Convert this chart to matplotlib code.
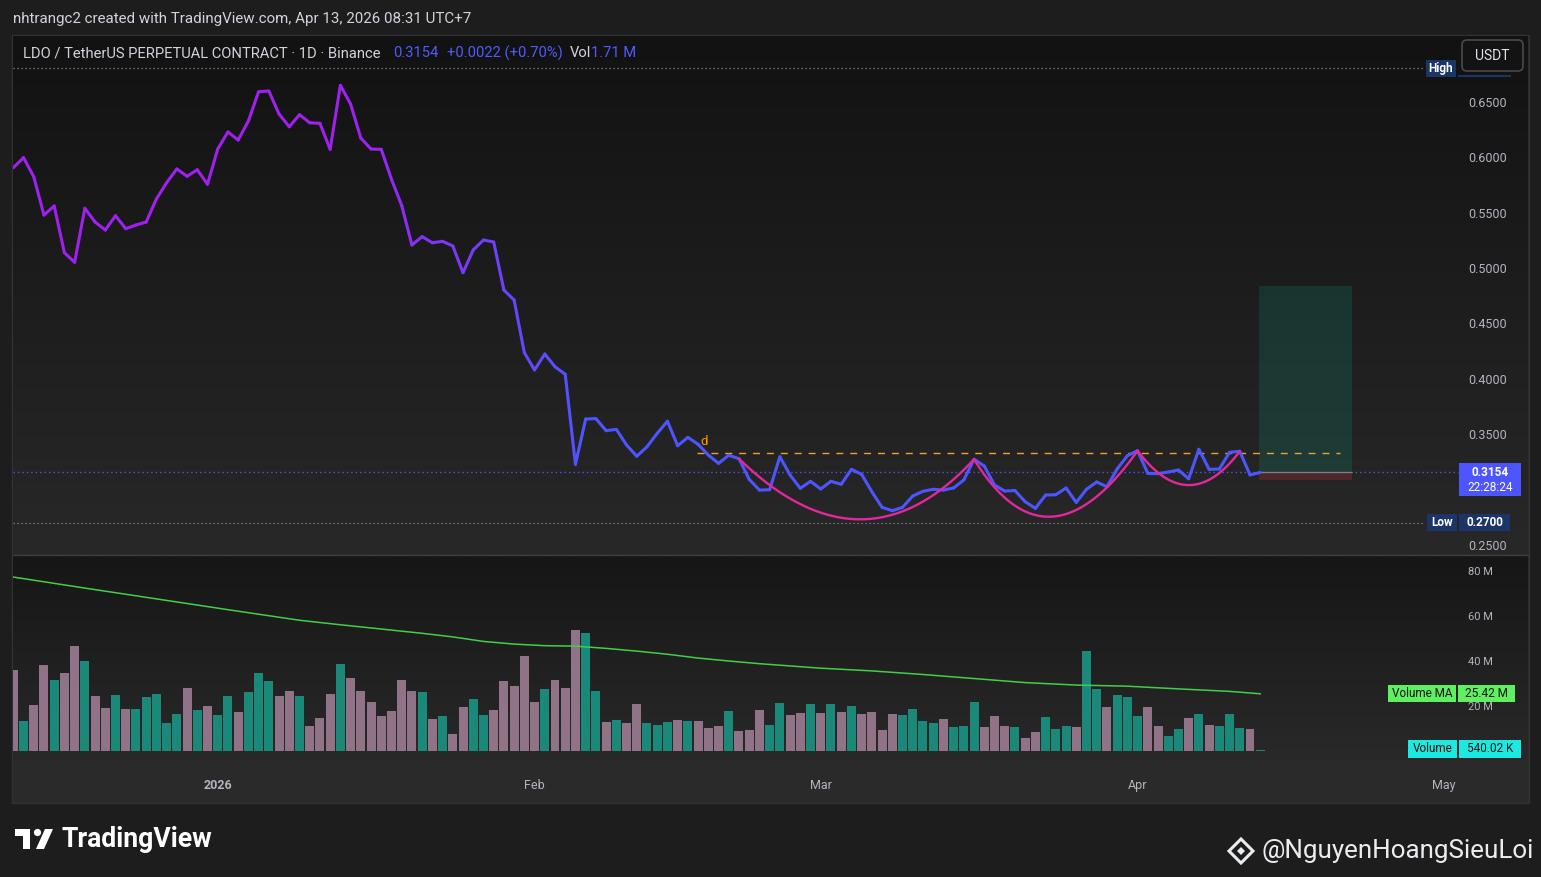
import numpy as np
import pandas as pd
import matplotlib
matplotlib.use("Agg")
import matplotlib.pyplot as plt
import matplotlib.dates as mdates
from matplotlib.collections import LineCollection
from matplotlib.patches import Rectangle, FancyBboxPatch, Polygon, Circle
from matplotlib.colors import LinearSegmentedColormap, to_rgb

plt.rcParams['font.family'] = ['Roboto', 'DejaVu Sans']

# ---------------- data ----------------
start_date = '2025-12-12'
end_date = '2026-04-13'
close = [0.5904, 0.5995, 0.5823, 0.5477, 0.5559, 0.5137, 0.5051, 0.5538, 0.5414, 0.5342,
         0.5471, 0.5354, 0.5387, 0.5414, 0.5622, 0.5769, 0.5893, 0.5827, 0.5886, 0.5755,
         0.6073, 0.6227, 0.6154, 0.6326, 0.6590, 0.6597, 0.6389, 0.6274, 0.6383, 0.6310,
         0.6305, 0.6070, 0.6648, 0.6479, 0.6172, 0.6073, 0.6070, 0.5800, 0.5564, 0.5207,
         0.5282, 0.5227, 0.5240, 0.5198, 0.4957, 0.5162, 0.5252, 0.5234, 0.4800, 0.4710,
         0.4235, 0.4079, 0.4223, 0.4108, 0.4040, 0.3227, 0.3636, 0.3640, 0.3531, 0.3543,
         0.3402, 0.3300, 0.3386, 0.3507, 0.3616, 0.3395, 0.3471, 0.3408, 0.3311, 0.3236,
         0.3309, 0.3278, 0.3092, 0.2995, 0.2998, 0.3296, 0.3131, 0.3011, 0.3074, 0.3005,
         0.3074, 0.3047, 0.3182, 0.3137, 0.2980, 0.2839, 0.2809, 0.2839, 0.2941, 0.2984,
         0.3002, 0.2995, 0.3014, 0.3086, 0.3273, 0.3212, 0.3041, 0.2986, 0.2991, 0.2890,
         0.2830, 0.2950, 0.2953, 0.3014, 0.2884, 0.3002, 0.3068, 0.3025, 0.3185, 0.3305,
         0.3350, 0.3146, 0.3143, 0.3158, 0.3176, 0.3097, 0.3363, 0.3182, 0.3185, 0.3336,
         0.3345, 0.3132, 0.3154]
prior_close = 0.5950
volume_m = [36.0, 13.3, 20.4, 38.2, 31.6, 34.7, 46.7, 40.0, 24.4, 19.1,
            24.9, 18.7, 18.7, 24.0, 25.3, 12.4, 16.4, 28.0, 18.2, 20.0,
            16.0, 24.4, 17.3, 26.2, 34.7, 31.1, 24.4, 26.7, 24.4, 11.1,
            14.7, 25.3, 38.7, 32.4, 26.7, 21.8, 15.6, 17.8, 31.6, 26.7,
            26.2, 14.2, 15.6, 7.6, 19.6, 23.1, 16.0, 18.2, 31.1, 28.9,
            42.2, 21.8, 27.6, 31.6, 28.0, 53.8, 52.4, 26.7, 12.9, 13.8,
            12.4, 20.9, 12.4, 11.6, 12.9, 13.8, 13.3, 13.3, 10.2, 11.1,
            17.8, 8.9, 9.3, 18.2, 11.6, 21.3, 16.0, 16.9, 20.9, 16.9,
            20.9, 17.3, 20.0, 16.4, 17.3, 9.3, 16.4, 16.0, 18.7, 13.3,
            12.4, 14.2, 10.7, 11.1, 21.8, 10.7, 15.6, 11.1, 10.7, 5.8,
            8.4, 15.1, 9.8, 11.1, 10.7, 44.4, 27.6, 19.6, 24.9, 24.0,
            15.6, 19.6, 11.1, 6.7, 9.8, 14.7, 16.4, 11.6, 11.1, 16.4,
            10.2, 9.8, 0.54]
ma_dates = ['2025-12-12', '2025-12-19', '2025-12-26', '2026-01-02', '2026-01-09',
            '2026-01-13', '2026-01-17', '2026-01-21', '2026-01-24', '2026-01-27',
            '2026-01-30', '2026-02-02', '2026-02-05', '2026-02-08', '2026-02-11',
            '2026-02-14', '2026-02-17', '2026-02-20', '2026-02-23', '2026-02-26',
            '2026-03-01', '2026-03-06', '2026-03-11', '2026-03-16', '2026-03-21',
            '2026-03-26', '2026-03-31', '2026-04-05', '2026-04-10', '2026-04-13']
ma_values = [77.3, 72.4, 67.6, 62.8, 58.1, 56.1, 54.2, 52.3, 50.7, 48.7,
             47.5, 46.8, 46.6, 45.6, 44.4, 43.0, 41.3, 40.0, 38.8, 37.8,
             36.8, 35.6, 34.0, 32.2, 30.4, 29.3, 28.8, 27.6, 26.5, 25.42]

price_ticks = [0.25, 0.35, 0.40, 0.45, 0.50, 0.55, 0.60, 0.65]
volume_ticks = [20, 40, 60, 80]
month_ticks = ['2026-01-01', '2026-02-01', '2026-03-01', '2026-04-01', '2026-05-01']
month_labels = ['2026', 'Feb', 'Mar', 'Apr', 'May']

high_price = 0.680
low_price = 0.2700
last_price = 0.3154
last_change = 0.0022
last_change_pct = 0.70
day_volume = '1.71 M'
countdown = '22:28:24'
vol_ma_label = '25.42 M'
vol_last_label = '540.02 K'

resistance_level = 0.3327
resistance_start = '2026-02-16 21:00'
resistance_end = '2026-04-20 19:00'
label_d_date = '2026-02-17 14:00'
label_d_price = 0.3429

arc_start = ['2026-02-21', '2026-03-16', '2026-04-01']
arc_bottom = ['2026-03-04 20:00', '2026-03-23 14:00', '2026-04-06']
arc_end = ['2026-03-16', '2026-04-01', '2026-04-11']
arc_start_price = [0.3278, 0.3273, 0.3350]
arc_bottom_price = [0.2731, 0.2755, 0.3040]
arc_end_price = [0.3273, 0.3350, 0.3345]

pos_start = '2026-04-12 22:00'
pos_end = '2026-04-22 00:00'
pos_entry = 0.3154
pos_target = 0.4837
pos_stop = 0.3086

# ---------------- figure ----------------
W, H = 1541, 877
fig = plt.figure(figsize=(W / 100, H / 100), dpi=100, facecolor='#1d1d1d')


def fr(x0, y0, x1, y1):
    return [x0 / W, 1 - y1 / H, (x1 - x0) / W, (y1 - y0) / H]


axb = fig.add_axes([0, 0, 1, 1], zorder=-5)
axb.set_axis_off()


def vgrad(ax, x0, x1, y0, y1, ctop, cbot):
    cmap = LinearSegmentedColormap.from_list('g', [ctop, cbot])
    g = np.linspace(0, 1, 256).reshape(-1, 1)
    ax.imshow(g, cmap=cmap, extent=(x0, x1, y1, y0), aspect='auto',
              interpolation='bilinear', origin='upper', zorder=2)


# panel
axb.add_patch(Rectangle((12, 35), 1517, 768, facecolor='#2a2a2a', edgecolor='#323232', lw=1, zorder=1))
vgrad(axb, 13, 1528, 36, 554, '#121212', '#282828')
vgrad(axb, 13, 1528, 555, 760, '#161616', '#292929')
axb.add_patch(Rectangle((13, 760), 1515, 42, facecolor='#2a2a2a', edgecolor='none', zorder=3))
axb.plot([13, 1528], [554.5, 554.5], color='#3d3d3d', lw=1, zorder=4)
axb.set_xlim(0, W)
axb.set_ylim(H, 0)

d0 = mdates.date2num(pd.Timestamp(start_date))
xl = (d0 - 0.03, d0 + 148.2)

dates = pd.date_range(start_date, end_date, freq='D')
xd = mdates.date2num(dates)
close_a = np.array(close)
vol_a = np.array(volume_m)

# ---------------- main pane ----------------
ax = fig.add_axes(fr(13, 37, 1528, 554), zorder=1)
ax.set_facecolor('none')
for s in ax.spines.values():
    s.set_visible(False)
ax.set_xlim(*xl)
ax.set_ylim(0.2418, 0.7084)

# price line with purple -> blue gradient
c_purple = np.array(to_rgb('#a020f0'))
c_blue = np.array(to_rgb('#4d55ff'))
pts = np.column_stack([xd, close_a])
segs = np.stack([pts[:-1], pts[1:]], axis=1)
idx_mid = np.arange(len(segs)) + 0.5
t = np.clip((idx_mid - 33) / (56 - 33), 0, 1)
cols = [tuple((1 - tt) * c_purple + tt * c_blue) for tt in t]
lc = LineCollection(segs, colors=cols, linewidths=2.2, capstyle='round', joinstyle='round', zorder=5)
ax.add_collection(lc)

# horizontal reference lines
ax.axhline(high_price, xmin=0, xmax=(1425 - 13) / 1515, color='#8c8c8c', lw=0.9, ls=(0, (1, 2.2)))
ax.axhline(low_price, xmin=0, xmax=(1425 - 13) / 1515, color='#8c8c8c', lw=0.9, ls=(0, (1, 2.2)))
ax.axhline(last_price, xmin=0, xmax=(1458 - 13) / 1515, color='#4d55ff', lw=1.0, ls=(0, (1, 2.2)))

# resistance dashed line and label
ax.hlines(resistance_level, mdates.date2num(pd.Timestamp(resistance_start)),
          mdates.date2num(pd.Timestamp(resistance_end)), color='#f0a030', lw=1.0,
          linestyles=(0, (5, 5)), zorder=4)
ax.text(mdates.date2num(pd.Timestamp(label_d_date)), label_d_price, 'd', color='#ff9800',
        fontsize=9.5, ha='center', va='center')

# arcs (quadratic curves through start, bottom, end)
tt = np.linspace(0, 1, 100)
for s, b, e, ps, pb, pe in zip(arc_start, arc_bottom, arc_end, arc_start_price, arc_bottom_price, arc_end_price):
    x0 = mdates.date2num(pd.Timestamp(s)); x2 = mdates.date2num(pd.Timestamp(e))
    xb = mdates.date2num(pd.Timestamp(b))
    x1 = 2 * xb - 0.5 * (x0 + x2); y1 = 2 * pb - 0.5 * (ps + pe)
    cx = (1 - tt) ** 2 * x0 + 2 * (1 - tt) * tt * x1 + tt ** 2 * x2
    cy = (1 - tt) ** 2 * ps + 2 * (1 - tt) * tt * y1 + tt ** 2 * pe
    ax.plot(cx, cy, color='#e2289c', lw=1.7, zorder=6, solid_capstyle='round')

# long position box
ps_ = mdates.date2num(pd.Timestamp(pos_start)); pe_ = mdates.date2num(pd.Timestamp(pos_end))
ax.add_patch(Rectangle((ps_, pos_entry), pe_ - ps_, pos_target - pos_entry,
                       facecolor='#089981', alpha=0.2, edgecolor='none', zorder=2))
ax.add_patch(Rectangle((ps_, pos_stop), pe_ - ps_, pos_entry - pos_stop,
                       facecolor='#f23645', alpha=0.2, edgecolor='none', zorder=2))
ax.hlines(pos_entry, ps_, pe_, color='#808080', lw=0.9, zorder=3)

ax.set_xticks([])
ax.yaxis.tick_right()
ax.set_yticks(price_ticks)
ax.set_yticklabels([f'{v:.4f}' for v in price_ticks])
ax.tick_params(axis='y', length=0, pad=-43, labelsize=9, labelcolor='#b2b5be')

# ---------------- volume pane ----------------
axv = fig.add_axes(fr(13, 555, 1528, 760), zorder=1)
axv.set_facecolor('none')
for s in axv.spines.values():
    s.set_visible(False)
axv.set_xlim(*xl)
axv.set_ylim(-4, 87.1)
prev = np.concatenate([[prior_close], close_a[:-1]])
bar_cols = np.where(close_a >= prev, '#1b897a', '#917387')
axv.bar(xd, vol_a, width=0.88, color=bar_cols, zorder=2)
axv.plot(mdates.date2num(pd.to_datetime(ma_dates)), ma_values, color='#41cf4a', lw=1.1, zorder=3)
axv.yaxis.tick_right()
axv.set_yticks(volume_ticks)
axv.set_yticklabels([f'{v} M' for v in volume_ticks])
axv.tick_params(axis='y', length=0, pad=-43, labelsize=8, labelcolor='#b2b5be')
axv.set_xticks(mdates.date2num(pd.to_datetime(month_ticks)))
axv.set_xticklabels(month_labels)
axv.tick_params(axis='x', length=0, pad=14, labelsize=9, labelcolor='#b2b5be')
axv.get_xticklabels()[0].set_fontweight('bold')

# ---------------- overlay (labels, header, watermark) ----------------
axo = fig.add_axes([0, 0, 1, 1], zorder=10)
axo.set_axis_off()
axo.set_facecolor('none')
axo.set_xlim(0, W)
axo.set_ylim(H, 0)


def py(a, v):
    return H - a.transData.transform((a.get_xlim()[0], v))[1]


def box(x0, x1, yc, h, fc, lines, tc, fs=8.5, bold=False):
    axo.add_patch(Rectangle((x0, yc - h / 2), x1 - x0, h, facecolor=fc, edgecolor='none'))
    n = len(lines)
    for i, s in enumerate(lines):
        yy = yc + (i - (n - 1) / 2) * (h / n)
        axo.text((x0 + x1) / 2, yy, s, color=tc, fontsize=fs, ha='center', va='center',
                 fontweight='bold' if bold else 'normal')


axo.text(13, 19, 'nhtrangc2 created with TradingView.com, Apr 13, 2026 08:31 UTC+7',
         color='#d1d4dc', fontsize=10.9, ha='left', va='center')
axo.text(23, 53, 'LDO / TetherUS PERPETUAL CONTRACT · 1D · Binance', color='#d1d4dc',
         fontsize=10.6, ha='left', va='center')
axo.text(393, 53, f'{last_price:.4f}', color='#4f5bff', fontsize=10.6, ha='left', va='center')
axo.text(447, 53, f'+{last_change:.4f} (+{last_change_pct:.2f}%)', color='#4f5bff', fontsize=10.6,
         ha='left', va='center')
axo.text(570, 53, 'Vol', color='#d1d4dc', fontsize=10.6, ha='left', va='center')
axo.text(591, 53, day_volume, color='#4f5bff', fontsize=10.6, ha='left', va='center')

axo.add_patch(FancyBboxPatch((1462, 40), 61, 31, boxstyle='round,pad=0,rounding_size=5',
                             facecolor='#131313', edgecolor='#4a4a4a', lw=1.2))
axo.text(1492.5, 55.5, 'USDT', color='#e0e3eb', fontsize=10, ha='center', va='center')

yh = py(ax, high_price)
box(1426, 1456, yh, 17, '#1c3568', ['High'], 'white', fs=8.5, bold=True)
axo.add_patch(Rectangle((1458, yh + 6.5), 53, 2.5, facecolor='#1c3568', edgecolor='none'))
ylw = py(ax, low_price)
box(1427, 1457, ylw, 17, '#1c3568', ['Low'], 'white', fs=8.5, bold=True)
box(1459, 1510, ylw, 17, '#1c3568', ['0.2700'], 'white', fs=8.5, bold=True)
ylp = py(ax, last_price)
axo.add_patch(Rectangle((1459, ylp - 9), 62, 33, facecolor='#4d55ff', edgecolor='none'))
axo.text(1490, ylp, f'{last_price:.4f}', color='white', fontsize=8.5, ha='center', va='center', fontweight='bold')
axo.text(1490, ylp + 15, countdown, color='white', fontsize=8.5, ha='center', va='center')

yma = py(axv, ma_values[-1])
box(1388, 1456, yma, 17, '#5ef05e', ['Volume MA'], '#111111', fs=8.5)
box(1458, 1515, yma, 17, '#5ef05e', [vol_ma_label], '#111111', fs=8.5)
box(1408, 1457, 749, 18, '#1de9e0', ['Volume'], '#111111', fs=8.5)
box(1459, 1521, 749, 18, '#1de9e0', [vol_last_label], '#111111', fs=8.5)

# TradingView logo
axo.add_patch(Rectangle((15, 829), 15, 6.5, facecolor='white', edgecolor='none'))
axo.add_patch(Rectangle((23, 829), 7, 20, facecolor='white', edgecolor='none'))
axo.add_patch(Circle((37.5, 832.5), 3.6, facecolor='white', edgecolor='none'))
axo.add_patch(Polygon([(36, 849), (45, 829), (53, 829), (44, 849)], closed=True,
                      facecolor='white', edgecolor='none'))
axo.text(62, 839.5, 'TradingView', color='white', fontsize=19.2, fontweight='bold',
         ha='left', va='center')

# Binance-like logo and handle
cx, cy = 1241, 851
axo.add_patch(Polygon([(cx, cy - 12), (cx + 12, cy), (cx, cy + 12), (cx - 12, cy)], closed=True,
                      facecolor='none', edgecolor='#eaecef', lw=2.2))
axo.add_patch(Polygon([(cx, cy - 4), (cx + 4, cy), (cx, cy + 4), (cx - 4, cy)], closed=True,
                      facecolor='#eaecef', edgecolor='none'))
axo.text(1262, 851, '@NguyenHoangSieuLoi', color='#eaecef', fontsize=18.7, ha='left', va='center')

fig.savefig('out.png', dpi=100, facecolor=fig.get_facecolor())
